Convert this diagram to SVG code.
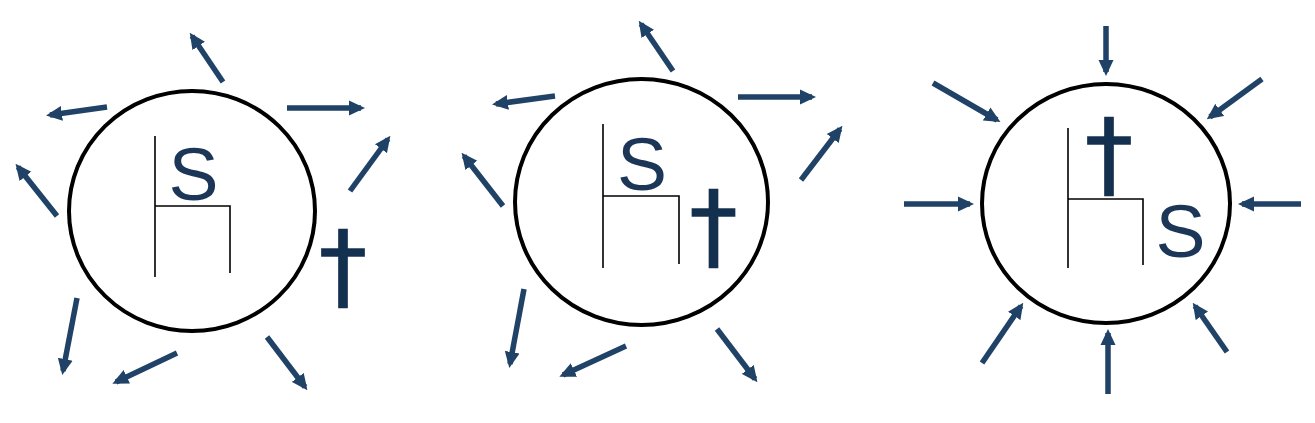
<svg xmlns="http://www.w3.org/2000/svg" width="1315" height="423" viewBox="0 0 1315 423">
<style>
.ring{fill:none;stroke:#000;stroke-width:4}
.br{fill:none;stroke:#000;stroke-width:1.6}
.s{font-family:"Liberation Sans",Arial,sans-serif;font-size:75px;fill:#1b3656;text-anchor:middle}
.d{font-family:"DejaVu Sans",sans-serif;font-size:95px;fill:#14304f;stroke:#14304f;stroke-width:1.5;text-anchor:middle}
.ar{stroke:#1f4266;stroke-width:5.5;fill:none;marker-end:url(#ah)}
</style>
<defs>
<marker id="ah" markerUnits="userSpaceOnUse" markerWidth="16" markerHeight="16" refX="12" refY="8" orient="auto" viewBox="0 0 16 16">
<path d="M0,0.5 L16,8 L0,15.5 z" fill="#1f4266"/>
</marker>
</defs>
<rect width="1315" height="423" fill="#fff"/>
<g id="panel1">
<ellipse class="ring" cx="192" cy="211" rx="123" ry="120"/>
<path class="br" d="M155,136 V277 M155,206 H230 V273"/>
<text class="s" x="193.5" y="200">S</text>
<text class="d" x="343" y="299">†</text>
</g>
<g id="panel2">
<ellipse class="ring" cx="641.5" cy="202" rx="126.5" ry="123"/>
<path class="br" d="M603,124 V268 M603,196 H679 V264"/>
<text class="s" x="642" y="190">S</text>
<text class="d" x="713.5" y="259">†</text>
</g>
<g id="panel3">
<ellipse class="ring" cx="1106" cy="203.5" rx="124" ry="119.5"/>
<path class="br" d="M1068,128 V268 M1068,199 H1143 V265"/>
<text class="s" x="1180.5" y="257">S</text>
<text class="d" x="1109" y="187">†</text>
</g>
<g id="connectors">
<line class="ar" x1="223" y1="82" x2="192" y2="36"/>
<line class="ar" x1="107" y1="107" x2="50" y2="115"/>
<line class="ar" x1="57" y1="216" x2="18" y2="167"/>
<line class="ar" x1="77" y1="298" x2="63" y2="371"/>
<line class="ar" x1="177" y1="353" x2="116" y2="382"/>
<line class="ar" x1="267" y1="337" x2="305" y2="387"/>
<line class="ar" x1="287" y1="108" x2="361" y2="108"/>
<line class="ar" x1="350" y1="191" x2="388" y2="139"/>

<line class="ar" x1="673" y1="71" x2="641" y2="24"/>
<line class="ar" x1="555" y1="96" x2="496" y2="104"/>
<line class="ar" x1="503" y1="206" x2="464" y2="156"/>
<line class="ar" x1="524" y1="289" x2="510" y2="364"/>
<line class="ar" x1="626" y1="346" x2="563" y2="375"/>
<line class="ar" x1="717" y1="329" x2="755" y2="379"/>
<line class="ar" x1="738" y1="97" x2="812" y2="97"/>
<line class="ar" x1="801" y1="180" x2="840" y2="129"/>

<line class="ar" x1="1106" y1="26" x2="1106" y2="72"/>
<line class="ar" x1="933" y1="83" x2="997" y2="120"/>
<line class="ar" x1="904" y1="204" x2="970" y2="204"/>
<line class="ar" x1="982" y1="363" x2="1021" y2="306"/>
<line class="ar" x1="1108" y1="394" x2="1108" y2="333"/>
<line class="ar" x1="1227" y1="352" x2="1195" y2="306"/>
<line class="ar" x1="1301" y1="204" x2="1242" y2="204"/>
<line class="ar" x1="1262" y1="79" x2="1210" y2="117"/>
</g>
</svg>
